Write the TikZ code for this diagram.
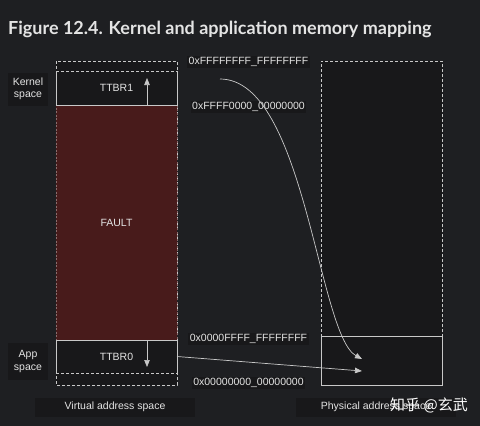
\documentclass[tikz,border=0pt]{standalone}
\usepackage{fontspec}
\setmainfont{Liberation Sans}
\newfontfamily\titlefont{Lato}
\newfontfamily\cjkfont{Noto Sans CJK SC}
\usetikzlibrary{positioning,arrows.meta}
\definecolor{bgdark}{HTML}{1E1F22}
\definecolor{boxdark}{HTML}{18181A}
\definecolor{faultred}{HTML}{481B1B}
\definecolor{faultedge}{HTML}{8A6C6C}
\definecolor{linegray}{HTML}{C8C8C8}
\definecolor{textgray}{HTML}{E4E4E4}
\tikzset{
    region/.style={minimum width=121pt, inner sep=0pt, outer sep=0pt, text=textgray, font=\fontsize{10.5}{12}\selectfont},
    solidline/.style={draw=linegray, line width=0.8pt},
    dashline/.style={draw=linegray, line width=0.8pt, dash pattern=on 3pt off 2pt},
    sidelabel/.style={fill=boxdark, text=textgray, align=center, font=\fontsize{10.5}{12.5}\selectfont, minimum width=40pt, inner sep=0pt},
    addr/.style={fill=boxdark, text=textgray, font=\fontsize{10.5}{12}\selectfont, inner sep=1.5pt},
    caption/.style={fill=boxdark, text=textgray, font=\fontsize{10.5}{12}\selectfont, minimum width=160pt, minimum height=19pt, inner sep=0pt},
    map/.style={draw=linegray, line width=0.7pt, -{Triangle[length=7pt,width=5.5pt]}}
}
\begin{document}
\begin{tikzpicture}[x=1pt,y=-1pt]
                \useasboundingbox[fill=bgdark] (0,0) rectangle (480,426);
                \node[anchor=base west, inner sep=0pt, text=textgray, font=\titlefont\bfseries\fontsize{18}{20}\selectfont] (title) at (8,34) {Figure 12.4. Kernel and application memory mapping};
                % virtual address space
                \draw[dashline, fill=boxdark] (56,61) rectangle (177,385);
                \node[region, fill=boxdark, minimum height=34pt] (ttbrone) at (116.5,88) {TTBR1};
                \node[region, fill=faultred, draw=faultedge, dash pattern=on 2pt off 1.5pt, minimum height=235pt, below=0pt of ttbrone] (fault) {FAULT};
                \node[region, fill=boxdark, minimum height=33pt, below=0pt of fault] (ttbrzero) {TTBR0};
                \draw[solidline] (ttbrone.north west) -- (ttbrone.south west) -- (ttbrone.south east) -- (ttbrone.north east);
                \draw[solidline] (ttbrzero.south west) -- (ttbrzero.north west) -- (ttbrzero.north east) -- (ttbrzero.south east);
                \draw[dashline] (ttbrone.north west) -- (ttbrone.north east);
                \draw[dashline] (ttbrzero.south west) -- (ttbrzero.south east);
                \draw[map] ([xshift=30.5pt]ttbrone.south) -- ([xshift=30.5pt,yshift=-7pt]ttbrone.north);
                \draw[map] ([xshift=30.5pt]ttbrzero.north) -- ([xshift=30.5pt,yshift=6pt]ttbrzero.south);
                \node[sidelabel, minimum height=33pt] (kspace) at (28,89) {Kernel\\space};
                \node[sidelabel, minimum height=37pt] (aspace) at (28,361.5) {App\\space};
                % physical address space
                \node[region, dashline, fill=boxdark, minimum height=275pt] (physhigh) at (381.5,198.5) {};
                \node[region, solidline, fill=boxdark, minimum height=49pt, below=0pt of physhigh] (physlow) {};
                % addresses
                \foreach \ypos/\name/\addr in {62/amax/0xFFFFFFFF\_FFFFFFFF, 107/kbase/0xFFFF0000\_00000000, 339/atop/0x0000FFFF\_FFFFFFFF, 383/amin/0x00000000\_00000000}
                {
                    \node[addr] (\name) at (248.5,\ypos) {\addr};
                }
                % mappings
                \coordinate (kstart) at (220,79);
                \coordinate (kend) at (362,359);
                \coordinate (aend) at (362,371);
                \draw[map] (kstart) .. controls (305,79) and (318,335) .. (kend);
                \draw[map] (ttbrzero.east) -- (aend);
                \node[caption] (vcap) at (115,407) {Virtual address space};
                \node[caption] (pcap) at (376,407) {Physical address space};
                \node[inner sep=0pt, text=white, font=\cjkfont\fontsize{15}{16}\selectfont] (mark) at (429,405) {知乎 @玄武};
            \end{tikzpicture}
\end{document}
